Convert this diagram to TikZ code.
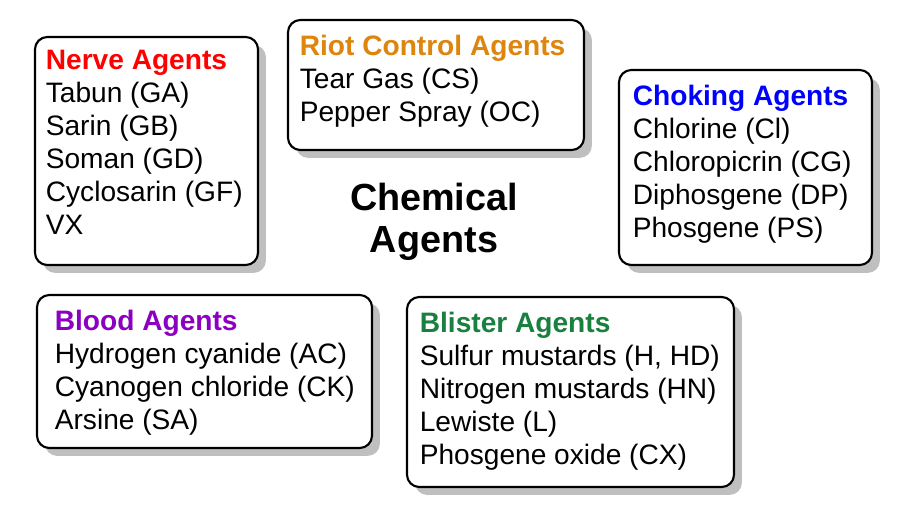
\documentclass[tikz,border=0pt]{standalone}
\usepackage{fontspec}
\setmainfont{Liberation Sans}
\usetikzlibrary{positioning,shadows}
\definecolor{nervered}{rgb}{1,0,0}
\definecolor{riotorange}{rgb}{0.87,0.52,0.05}
\definecolor{chokeblue}{rgb}{0,0,1}
\definecolor{bloodpurple}{rgb}{0.55,0,0.75}
\definecolor{blistergreen}{rgb}{0.1,0.5,0.25}
\tikzset{
  box/.style={draw=black, line width=1.2pt, fill=white, rounded corners=7pt,
    drop shadow={shadow xshift=4.5pt, shadow yshift=-4.5pt, fill=black!25, opacity=1}},
  txt/.style={anchor=north west, align=left, inner sep=2pt,
    font=\fontsize{16}{18.8}\selectfont},
  ttl/.style={font=\bfseries}
}
\begin{document}
\begin{tikzpicture}[x=0.02cm, y=-0.02cm]
  \useasboundingbox (0,0) rectangle (914,515);
  % boxes
  \path[box] (35,37) rectangle (258,265);
  \path[box] (288,20) rectangle (584,150);
  \path[box] (619,70) rectangle (872,265);
  \path[box] (37,295) rectangle (372,448);
  \path[box] (407,297) rectangle (734,487);

  \node[txt] (nerve) at (42,46) {{\bfseries\color{nervered}Nerve Agents}\\
    Tabun (GA)\\Sarin (GB)\\Soman (GD)\\Cyclosarin (GF)\\VX};
  \node[txt] (riot) at (296,31) {{\bfseries\color{riotorange}Riot Control Agents}\\
    Tear Gas (CS)\\Pepper Spray (OC)};
  \node[txt] (choking) at (629,81) {{\bfseries\color{chokeblue}Choking Agents}\\
    Chlorine (Cl)\\Chloropicrin (CG)\\Diphosgene (DP)\\Phosgene (PS)};
  \node[txt] (blood) at (51,306) {{\bfseries\color{bloodpurple}Blood Agents}\\
    Hydrogen cyanide (AC)\\Cyanogen chloride (CK)\\Arsine (SA)};
  \node[txt] (blister) at (416,308) {{\bfseries\color{blistergreen}Blister Agents}\\
    Sulfur mustards (H, HD)\\Nitrogen mustards (HN)\\Lewiste (L)\\Phosgene oxide (CX)};

  \node[align=center, font=\bfseries\fontsize{21.5}{24}\selectfont] (center) at (434,222)
    {Chemical\\Agents};
\end{tikzpicture}
\end{document}
